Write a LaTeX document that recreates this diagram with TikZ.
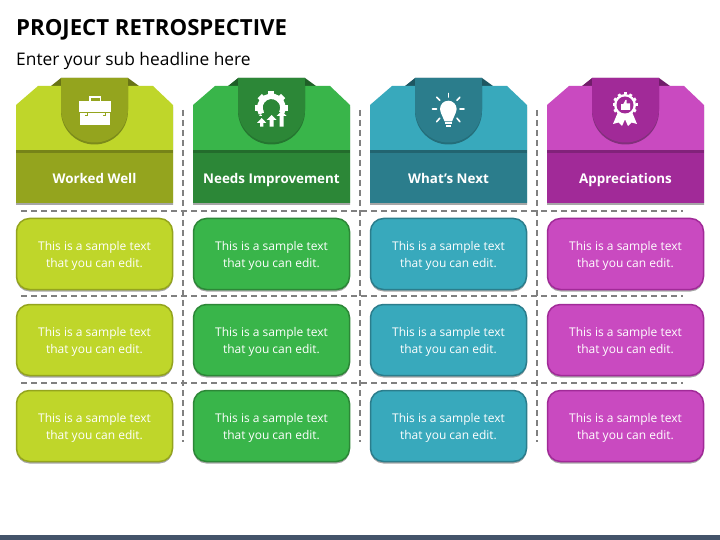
\documentclass[tikz,border=0pt]{standalone}
\usepackage{fontspec}
\setmainfont{Open Sans}
\usetikzlibrary{shadows}
\definecolor{limelight}{HTML}{BFD62A}
\definecolor{limedark}{HTML}{94A41E}
\definecolor{greenlight}{HTML}{39B54A}
\definecolor{greendark}{HTML}{2C8737}
\definecolor{teallight}{HTML}{38A9BC}
\definecolor{tealdark}{HTML}{2B7D8C}
\definecolor{pinklight}{HTML}{C94AC0}
\definecolor{pinkdark}{HTML}{A12A98}
\definecolor{barblue}{HTML}{44546A}
\tikzset{
  softshadow/.style={drop shadow={shadow xshift=0pt,shadow yshift=-2pt,fill=black,opacity=.35}},
  cardbox/.style={rounded corners=13pt,line width=1.5pt,minimum width=156pt,minimum height=71pt,
    softshadow,align=center,text=white,font=\fontsize{12}{17}\selectfont,text height=29pt},
  limecard/.style={cardbox,fill=limelight,draw=limedark},
  greencard/.style={cardbox,fill=greenlight,draw=greendark},
  tealcard/.style={cardbox,fill=teallight,draw=tealdark},
  pinkcard/.style={cardbox,fill=pinklight,draw=pinkdark},
  headlabel/.style={anchor=base,text=white,font=\fontsize{13.4}{16}\selectfont\bfseries},
  sepline/.style={draw=black!50,line width=1.5pt,dash pattern=on 6pt off 4pt},
  iconline/.style={draw=white,line width=1.6pt,line cap=round}
}
\begin{document}
\begin{tikzpicture}[x=1pt,y=-1pt]
\useasboundingbox (0,0) rectangle (720,540);
\fill[white] (0,0) rectangle (720,540);
\fill[barblue] (0,535) rectangle (720,540);
\node[anchor=base west,inner sep=0pt,font=\fontsize{22.2}{26}\selectfont\bfseries] (title) at (16,36) {PROJECT RETROSPECTIVE};
\node[anchor=base west,inner sep=0pt,font=\fontsize{17.35}{20}\selectfont] (subtitle) at (16,66) {Enter your sub headline here};
% separators
\draw[sepline] (21,211)--(683,211);
\draw[sepline] (21,296)--(683,296);
\draw[sepline] (21,383)--(683,383);
\draw[sepline] (183,110)--(183,442);
\draw[sepline] (360,110)--(360,442);
\draw[sepline] (537,110)--(537,442);
% headers
\begin{scope}[xshift=0pt]
\fill[limedark!70!black] (51,86)--(61,78)--(128,78)--(139,86)--cycle;
\fill[limelight,softshadow] (16,105)--(38,86)--(153,86)--(173,105)--(173,203)--(16,203)--cycle;
\fill[limedark] (16,152) rectangle (173,203);
\fill[limedark!80!black] (16,150.5) rectangle (173,153);
\fill[limedark,softshadow] (128,78)--(128,109) arc[start angle=0,end angle=180,radius=33.5]--(61,78)--cycle;
\node[headlabel] (worked) at (94.5,184) {Worked Well};
\end{scope}
\begin{scope}[xshift=177pt]
\fill[greendark!70!black] (51,86)--(61,78)--(128,78)--(139,86)--cycle;
\fill[greenlight,softshadow] (16,105)--(38,86)--(153,86)--(173,105)--(173,203)--(16,203)--cycle;
\fill[greendark] (16,152) rectangle (173,203);
\fill[greendark!80!black] (16,150.5) rectangle (173,153);
\fill[greendark,softshadow] (128,78)--(128,109) arc[start angle=0,end angle=180,radius=33.5]--(61,78)--cycle;
\node[headlabel] (needs) at (94.5,184) {Needs Improvement};
\end{scope}
\begin{scope}[xshift=354pt]
\fill[tealdark!70!black] (51,86)--(61,78)--(128,78)--(139,86)--cycle;
\fill[teallight,softshadow] (16,105)--(38,86)--(153,86)--(173,105)--(173,203)--(16,203)--cycle;
\fill[tealdark] (16,152) rectangle (173,203);
\fill[tealdark!80!black] (16,150.5) rectangle (173,153);
\fill[tealdark,softshadow] (128,78)--(128,109) arc[start angle=0,end angle=180,radius=33.5]--(61,78)--cycle;
\node[headlabel] (next) at (94.5,184) {What’s Next};
\end{scope}
\begin{scope}[xshift=531pt]
\fill[pinkdark!70!black] (51,86)--(61,78)--(128,78)--(139,86)--cycle;
\fill[pinklight,softshadow] (16,105)--(38,86)--(153,86)--(173,105)--(173,203)--(16,203)--cycle;
\fill[pinkdark] (16,152) rectangle (173,203);
\fill[pinkdark!80!black] (16,150.5) rectangle (173,153);
\fill[pinkdark,softshadow] (128,78)--(128,109) arc[start angle=0,end angle=180,radius=33.5]--(61,78)--cycle;
\node[headlabel] (appreciations) at (94.5,184) {Appreciations};
\end{scope}
% briefcase
\draw[white,line width=1.3pt] (90,101)--(90,97)--(100.5,97)--(100.5,101);
\fill[white] (79,101) rectangle (111,112.5);
\fill[white] (80,113.5) rectangle (110,125);
\fill[limedark] (84.5,112) rectangle (87.5,116);
\fill[limedark] (102.5,112) rectangle (105.5,116);
\fill[white] (85.3,113) rectangle (86.7,115);
\fill[white] (103.3,113) rectangle (104.7,115);
% gear with arrows
\draw[white,line width=5.5pt] (261.4,113.5) arc[start angle=150,end angle=385,radius=11.5];
\foreach \a in {135,180,225,270,315,0} {
  \draw[white,line width=6pt,shift={(271.4,107.7)}] (\a:12)--(\a:16.5);
}
\fill[greendark] (255,116) rectangle (289,128);
\fill[greendark] (262,111) rectangle (276,128);
\draw[white,line width=5.5pt] (261.4,113.5) arc[start angle=150,end angle=175,radius=11.5];
\fill[white] (260,126.7)--(260,123)--(257,123)--(261.7,118)--(266.4,123)--(263.4,123)--(263.4,126.7)--cycle;
\fill[white] (269.7,126.7)--(269.7,120)--(266.7,120)--(271.7,115)--(276.7,120)--(273.7,120)--(273.7,126.7)--cycle;
\fill[white] (279.7,126.7)--(279.7,116)--(276.7,116)--(281.7,111)--(286.7,116)--(283.7,116)--(283.7,126.7)--cycle;
% bulb
\fill[white] (448.3,109) circle (8.3);
\fill[white] (441,113)--(455.6,113)--(452,121.5)--(444.6,121.5)--cycle;
\fill[white] (445,122.3) rectangle (451.7,124.5);
\fill[white] (446,125) rectangle (450.7,126.8);
\draw[iconline] (448.3,93.5)--(448.3,97);
\draw[iconline] (432.5,109.3)--(436.5,109.3);
\draw[iconline] (460,109.3)--(464,109.3);
\draw[iconline] (436.7,97.3)--(439.7,100.3);
\draw[iconline] (459.9,97.3)--(456.9,100.3);
\draw[iconline] (436.7,121.7)--(439.7,118.2);
\draw[iconline] (459.9,121.7)--(456.9,118.2);
% award
\fill[white] (618,112)--(613,124)--(618.5,122.5)--(622,126)--(627,115)--cycle;
\fill[white] (632,112)--(637,124)--(631.5,122.5)--(628,126)--(623,115)--cycle;
\foreach \a in {0,30,...,330} {
  \fill[white,shift={(625,105)},rotate=\a] (10.5,-1.5) rectangle (12.5,1.5);
}
\fill[white] (625,105) circle (11);
\fill[pinkdark] (625,105) circle (8.5);
\fill[white] (620.5,104.5) rectangle (622.5,110);
\fill[white] (623,104.5)--(625.5,100)--(626.5,100)--(626.5,103.5)--(630,103.5)--(630,110)--(623,110)--cycle;
% cards
\node[limecard] (worka) at (94.5,254) {This is a sample text\\that you can edit.};
\node[limecard] (workb) at (94.5,340) {This is a sample text\\that you can edit.};
\node[limecard] (workc) at (94.5,426) {This is a sample text\\that you can edit.};
\node[greencard] (needa) at (271.5,254) {This is a sample text\\that you can edit.};
\node[greencard] (needb) at (271.5,340) {This is a sample text\\that you can edit.};
\node[greencard] (needc) at (271.5,426) {This is a sample text\\that you can edit.};
\node[tealcard] (nexta) at (448.5,254) {This is a sample text\\that you can edit.};
\node[tealcard] (nextb) at (448.5,340) {This is a sample text\\that you can edit.};
\node[tealcard] (nextc) at (448.5,426) {This is a sample text\\that you can edit.};
\node[pinkcard] (appra) at (625.5,254) {This is a sample text\\that you can edit.};
\node[pinkcard] (apprb) at (625.5,340) {This is a sample text\\that you can edit.};
\node[pinkcard] (apprc) at (625.5,426) {This is a sample text\\that you can edit.};
\end{tikzpicture}
\end{document}
